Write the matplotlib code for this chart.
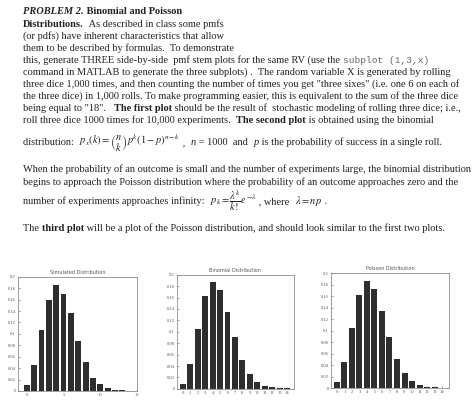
import matplotlib
matplotlib.use("Agg")
import matplotlib.pyplot as plt
import numpy as np

W, H = 474, 415
k_sim = list(range(14))
p_sim = [0.010, 0.045, 0.106, 0.160, 0.186, 0.170, 0.137, 0.088, 0.050, 0.023, 0.012, 0.006, 0.002, 0.002]
k_bin = list(range(15))
p_bin = [0.009, 0.044, 0.105, 0.162, 0.188, 0.174, 0.134, 0.090, 0.050, 0.026, 0.012, 0.005, 0.003, 0.002, 0.001]
k_poi = list(range(15))
p_poi = [0.010, 0.045, 0.104, 0.161, 0.187, 0.173, 0.134, 0.089, 0.051, 0.026, 0.012, 0.005, 0.002, 0.001, 0.0005]
titles = ["Simulated Distribution", "Binomial Distribution", "Poisson Distribution"]

plt.rcParams['font.family'] = ['Liberation Serif', 'DejaVu Serif']
plt.rcParams['mathtext.fontset'] = 'stix'
fig = plt.figure(figsize=(W/100, H/100), dpi=100)
fig.patch.set_facecolor('white')
r = fig.canvas.get_renderer()
FS = 7.45

def line(y, parts, x=23):
    for part in parts:
        txt, w, st = part[:3]
        kw = dict(fontsize=FS, color='#222')
        if len(part) > 3:
            kw = dict(family='Liberation Mono', fontsize=6.8, color='#666')
        t = fig.text(x/W, 1 - y/H, txt, fontweight=w, fontstyle=st,
                     va='baseline', ha='left', **kw)
        x += t.get_window_extent(r).width
    return x

N, B, I = 'normal', 'bold', 'italic'
line(14, [("PROBLEM 2.", B, I), (" Binomial and Poisson", B, N)])
line(27, [("Distributions.", B, N), ("  As described in class some pmfs", N, N)])
line(39, [("(or pdfs) have inherent characteristics that allow", N, N)])
line(51, [("them to be described by formulas.  To demonstrate", N, N)])
line(63, [("this, generate THREE side-by-side  pmf stem plots for the same RV (use the ", N, N),
          ("subplot (1,3,x)", N, N, 'mono')])
line(75, [("command in MATLAB to generate the three subplots) .  The random variable X is generated by rolling", N, N)])
line(87, [("three dice 1,000 times, and then counting the number of times you get \"three sixes\" (i.e. one 6 on each of", N, N)])
line(99, [("the three dice) in 1,000 rolls. To make programming easier, this is equivalent to the sum of the three dice", N, N)])
line(111, [("being equal to \"18\".   ", N, N), ("The first plot", B, N),
           (" should be the result of  stochastic modeling of rolling three dice; i.e.,", N, N)])
line(123, [("roll three dice 1000 times for 10,000 experiments.  ", N, N), ("The second plot", B, N),
           (" is obtained using the binomial", N, N)])
line(145, [("distribution:  ", N, N), (r"$p_x(k)=\genfrac{(}{)}{0}{0}{n}{k}p^k(1-p)^{n-k}$", N, N),
           (" ,  ", N, N), ("n", N, I), (" = 1000  and  ", N, N), ("p", N, I),
           (" is the probability of success in a single roll.", N, N)])
line(172, [("When the probability of an outcome is small and the number of experiments large, the binomial distribution", N, N)])
line(185, [("begins to approach the Poisson distribution where the probability of an outcome approaches zero and the", N, N)])
line(204, [("number of experiments approaches infinity:  ", N, N), (r"$p_k=\dfrac{\lambda^k}{k!}e^{-\lambda}$", N, N),
           (" , where  ", N, N), (r"$\lambda=np$", N, N), (" .", N, N)])
line(231, [("The ", N, N), ("third plot", B, N),
           (" will be a plot of the Poisson distribution, and should look similar to the first two plots.", N, N)])

rects = [[0.038, 0.058, 0.251, 0.275], [0.373, 0.063, 0.247, 0.275], [0.698, 0.065, 0.249, 0.277]]
data = [(k_sim, p_sim), (k_bin, p_bin), (k_poi, p_poi)]
for i, (rect, (k, p)) in enumerate(zip(rects, data)):
    ax = fig.add_axes(rect)
    ax.bar(k, p, width=0.8, color='#2e2e2e')
    ax.set_ylim(0, 0.2)
    ax.set_yticks(np.arange(0, 0.201, 0.02))
    ax.set_yticklabels(["0"] + [f"{v:.2f}".rstrip('0') if v >= 0.1 else f"{v:.2f}" for v in np.arange(0.02, 0.201, 0.02)])
    if i == 0:
        ax.set_xlim(-1.2, 15)
        ax.set_xticks([0, 5, 10, 15])
    else:
        ax.set_xlim(-0.8, 14.9)
        ax.set_xticks(range(15))
    ax.tick_params(labelsize=3.3, length=1.5, width=0.4, colors='#555', pad=1.5, direction='in')
    for s in ax.spines.values():
        s.set_linewidth(0.5); s.set_color('#777')
    ax.set_title(titles[i], fontsize=3.5, color='#555', pad=2, family='DejaVu Sans')
fig.savefig("out.png", dpi=100)
